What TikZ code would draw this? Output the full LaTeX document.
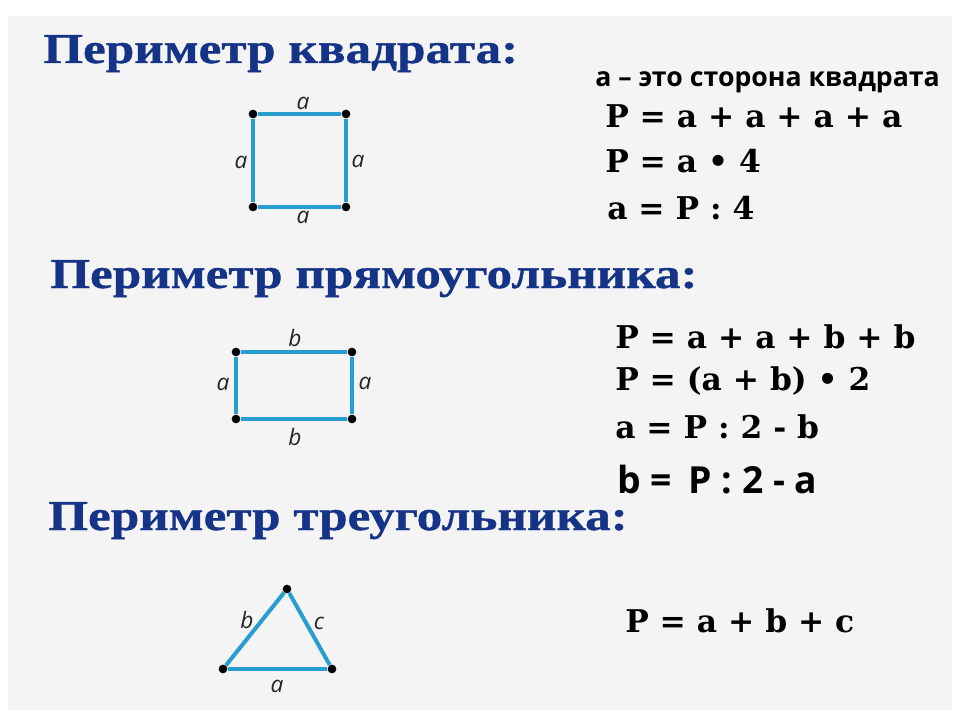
\documentclass[tikz,border=0pt]{standalone}
\usepackage{fontspec}
\setmainfont{Liberation Serif}
\newfontfamily\titlefont[FakeStretch=1.2, FakeBold=0.8]{Liberation Serif}
\newfontfamily\formfont{DejaVu Serif}
\newfontfamily\notefont{Open Sans}
\usetikzlibrary{positioning}
\definecolor{titleblue}{RGB}{22,52,135}
\definecolor{edgeblue}{RGB}{40,158,208}
\definecolor{panelgray}{RGB}{244,244,244}

\begin{document}
\begin{tikzpicture}[
    x=0.75pt, y=-0.75pt,
    heading/.style={anchor=base west, inner sep=0pt, text=titleblue,
        font=\titlefont\bfseries\fontsize{32}{34}\selectfont},
    formula/.style={anchor=base west, inner sep=0pt,
        font=\formfont\bfseries\fontsize{23.5}{25}\selectfont},
    note/.style={anchor=base west, inner sep=0pt,
        font=\notefont\bfseries\fontsize{20}{22}\selectfont},
    vertex/.style={circle, fill=black, inner sep=0pt, minimum size=6.5pt},
    side/.style={draw=edgeblue, line width=3pt},
    lbl/.style={inner sep=0pt, text=black!85,
        font=\notefont\itshape\fontsize{17}{18}\selectfont}
]
    \useasboundingbox (0,0) rectangle (960,720);
    \fill[panelgray] (8,16) rectangle (952,710);

    % square
    \node[heading] (sqtitle) at (43,63) {Периметр квадрата:};
    \node[vertex] (sq1) at (253,114) {};
    \node[vertex] (sq2) at (346,114) {};
    \node[vertex] (sq3) at (346,207) {};
    \node[vertex] (sq4) at (253,207) {};
    \draw[side] (sq1) -- (sq2);
    \draw[side] (sq2) -- (sq3);
    \draw[side] (sq3) -- (sq4);
    \draw[side] (sq4) -- (sq1);
    \node[lbl] (sqtop) at (303,103) {a};
    \node[lbl] (sqleft) at (241,162) {a};
    \node[lbl] (sqright) at (358,161) {a};
    \node[lbl] (sqbottom) at (303,217) {a};
    \node[note] (sqnote) at (595,87) {а – это сторона квадрата};
    \node[formula] (sqf1) at (605,128) {P = a + a + a + a};
    \node[formula] (sqf2) at (605,173) {P = a • 4};
    \node[formula] (sqf3) at (607,220) {a = P : 4};

    % rectangle
    \node[heading] (rttitle) at (50,288) {Периметр прямоугольника:};
    \node[vertex] (rt1) at (236,352) {};
    \node[vertex] (rt2) at (352,352) {};
    \node[vertex] (rt3) at (352,419) {};
    \node[vertex] (rt4) at (236,419) {};
    \draw[side] (rt1) -- (rt2);
    \draw[side] (rt2) -- (rt3);
    \draw[side] (rt3) -- (rt4);
    \draw[side] (rt4) -- (rt1);
    \node[lbl] (rttop) at (295,338) {b};
    \node[lbl] (rtleft) at (223,384) {a};
    \node[lbl] (rtright) at (365,383) {a};
    \node[lbl] (rtbottom) at (295,437) {b};
    \node[formula] (rtf1) at (615,348) {P = a + a + b + b};
    \node[formula] (rtf2) at (615,390) {P = (a + b) • 2};
    \node[formula] (rtf3) at (615,438) {a = P : 2 - b};
    \node[note, font=\notefont\bfseries\fontsize{28}{30}\selectfont]
        (rtf4) at (617,493) {b =\hspace{0.45em}P : 2 - a};

    % triangle
    \node[heading] (trtitle) at (48,530) {Периметр треугольника:};
    \node[vertex] (tr1) at (287,589) {};
    \node[vertex] (tr2) at (223,669) {};
    \node[vertex] (tr3) at (332,669) {};
    \draw[side] (tr1) -- (tr2);
    \draw[side] (tr2) -- (tr3);
    \draw[side] (tr3) -- (tr1);
    \node[lbl] (trleft) at (247,620) {b};
    \node[lbl] (trright) at (319,623) {c};
    \node[lbl] (trbottom) at (277,686) {a};
    \node[formula] (trf1) at (625,632) {P = a + b + c};
\end{tikzpicture}
\end{document}
